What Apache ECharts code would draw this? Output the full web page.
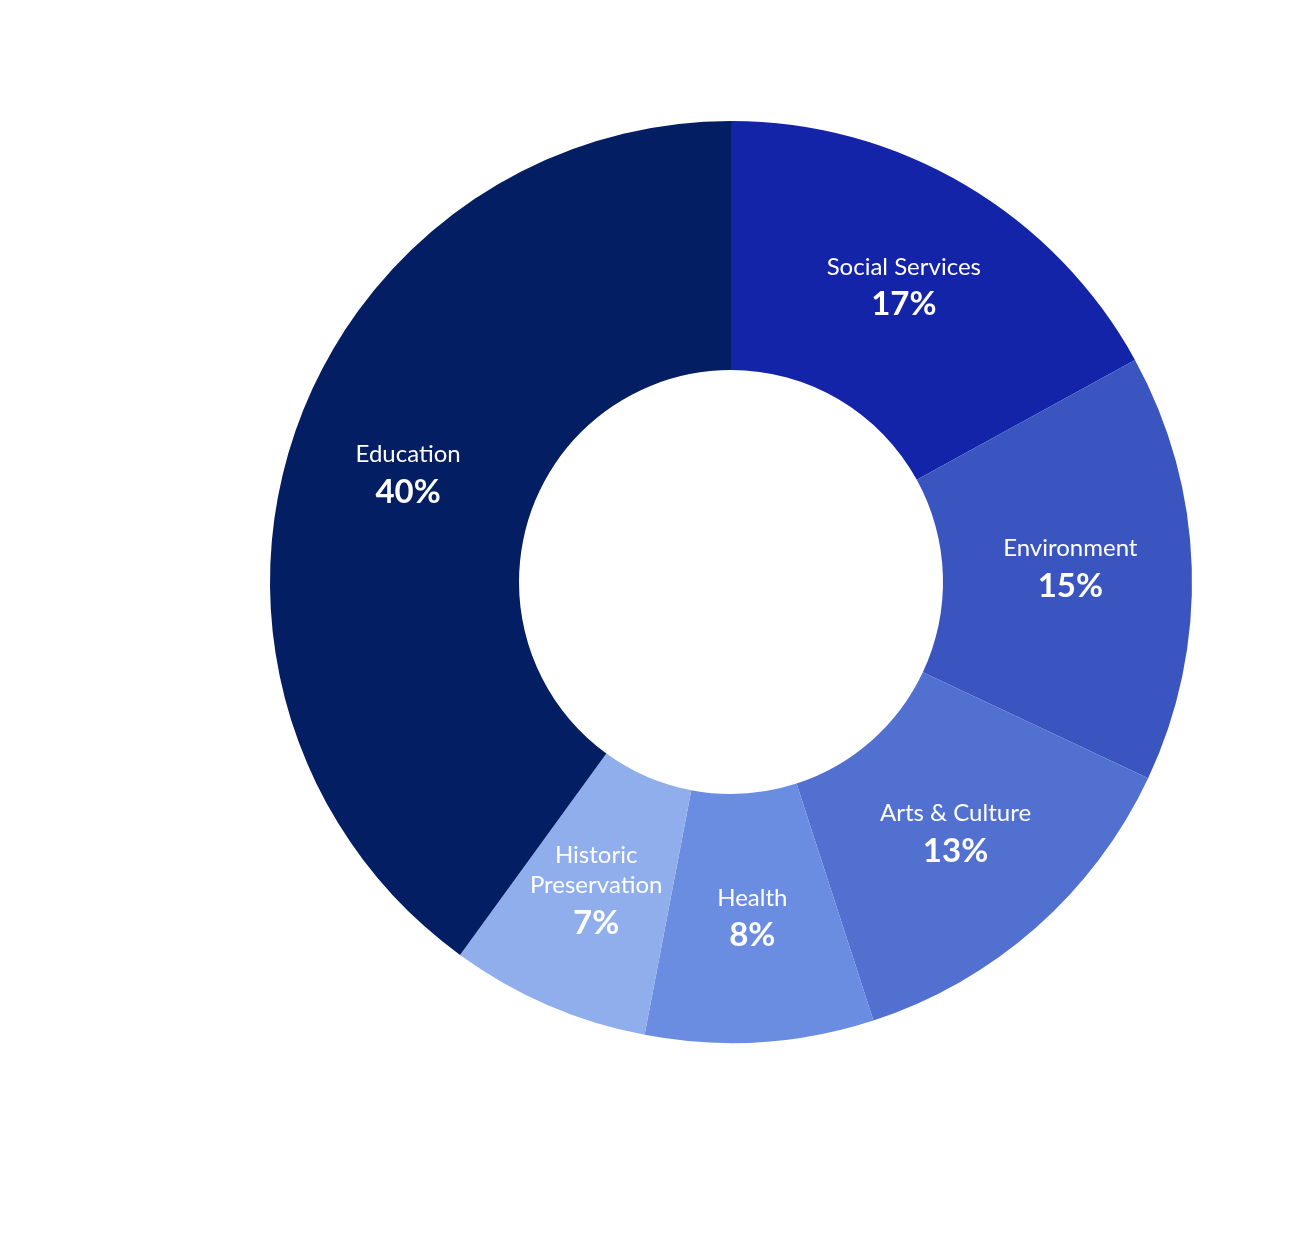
<!DOCTYPE html>
<html><head><meta charset="utf-8">
<script src="https://cdn.jsdelivr.net/npm/echarts@6/dist/echarts.min.js"></script>
<style>html,body{margin:0;padding:0;background:#fff}#c{width:1303px;height:1252px}</style>
</head><body><div id="c"></div>
<script>
const categories = ["Social Services","Environment","Arts & Culture","Health","Historic\nPreservation","Education"];
const values = [17,15,13,8,7,40];
const colors = ["#1424A8","#3B55C0","#5270D0","#6A8DE2","#90AEEC","#041E63"];
const chart = echarts.init(document.getElementById('c'));
chart.setOption({
  animation:false,
  series:[{
    type:'pie',
    center:[731,582],
    radius:[212,461],
    startAngle:90,
    clockwise:true,
    data:categories.map((n,i)=>({name:n,value:values[i],itemStyle:{color:colors[i]}})),
    label:{
      position:'inside',
      formatter:p=>'{n|'+p.name+'}\n{v|'+p.value+'%}',
      rich:{
        n:{color:'#fff',fontSize:24,fontFamily:'Lato',lineHeight:30,align:'center'},
        v:{color:'#fff',fontSize:33,fontWeight:'bold',fontFamily:'Lato',lineHeight:46,align:'center'}
      }
    },
    labelLine:{show:false},
    emphasis:{disabled:true}
  }]
});
</script></body></html>
